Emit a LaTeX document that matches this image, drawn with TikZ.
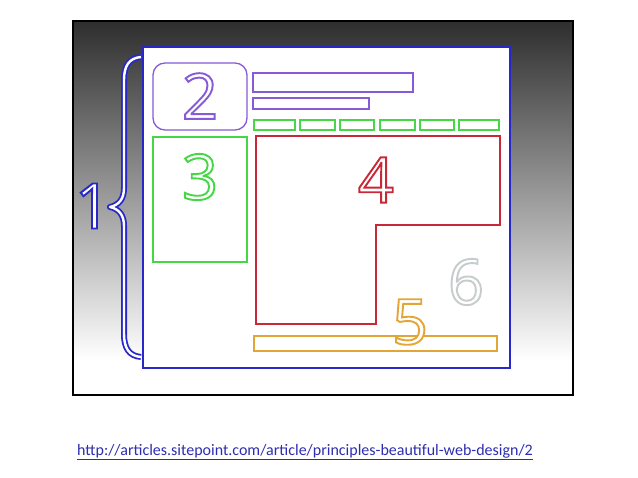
\documentclass[tikz,border=0pt]{standalone}
\usepackage{fontspec}
\setmainfont{Carlito}
\newfontfamily\digitfont{Open Sans}
\usepackage{xcolor}
\usepackage{tikz}
\usetikzlibrary{calc}

\definecolor{pageblue}{RGB}{40,40,200}
\definecolor{logopurple}{RGB}{135,90,215}
\definecolor{navgreen}{RGB}{70,215,70}
\definecolor{bodyred}{RGB}{200,40,55}
\definecolor{footorange}{RGB}{228,165,55}
\definecolor{spacegray}{RGB}{198,204,204}
\definecolor{linkblue}{RGB}{45,45,175}

% outlined digit: stroke in colour, filled white
\newcommand{\hollow}[2]{\textcolor{#1}{\special{pdf:literal direct 1 1 1 rg 2 Tr 1.9 w}#2\special{pdf:literal direct 0 Tr}}}

\tikzset{
    area/.style={draw=#1, line width=1.3pt, inner sep=0pt},
    digit/.style={inner sep=0pt, font=\digitfont\fontsize{63}{63}\selectfont}
}

\begin{document}
\begin{tikzpicture}[x=1pt, y=-1pt]
    \useasboundingbox (0,0) rectangle (638,478);

    % screen with gradient
    \shade[top color=black!82, bottom color=white] (73,21) rectangle (573,360);
    \fill[white] (73,360) rectangle (573,395);
    \draw[black, line width=1.2pt] (73,21) rectangle (573,395);

    % page
    \node[area=pageblue, line width=1.8pt, fill=white, minimum width=367pt, minimum height=321pt] (page) at (326.5,207.5) {};

    % header
    \node[area=logopurple, rounded corners=12pt, minimum width=94pt, minimum height=67pt] (logo) at (200,96.5) {};
    \node[area=logopurple, minimum width=160pt, minimum height=19pt] (title) at (333,82.5) {};
    \node[area=logopurple, minimum width=116pt, minimum height=11pt] (slogan) at (311,103.5) {};

    % navigation
    \foreach \x/\w [count=\i] in {274.5/41, 317.5/35, 357/34, 397.5/35, 437/34, 479/40}
        \node[area=navgreen, minimum width=\w pt, minimum height=10pt] (nav\i) at (\x,125) {};

    % sidebar
    \node[area=navgreen, minimum width=94pt, minimum height=125pt] (side) at (200,199.5) {};

    % content
    \coordinate (c1) at (256,136);
    \coordinate (c2) at (500,136);
    \coordinate (c3) at (500,225);
    \coordinate (c4) at (376,225);
    \coordinate (c5) at (376,324);
    \coordinate (c6) at (256,324);
    \draw[bodyred, line width=1.3pt] (c1) -- (c2) -- (c3) -- (c4) -- (c5) -- (c6) -- cycle;

    % footer
    \node[area=footorange, minimum width=243pt, minimum height=15pt] (foot) at (375.5,343.5) {};

    % brace
    \coordinate (btop) at (141,57);
    \coordinate (btip) at (110,207);
    \coordinate (bbot) at (141,357);
    \draw[pageblue, line width=1.8pt, double=white, double distance=2.4pt, line join=round]
        (btop) .. controls (129,58) and (124,66) .. (124,80) -- (124,188)
        .. controls (124,199) and (119,205) .. (btip)
        .. controls (119,209) and (124,215) .. (124,226) -- (124,334)
        .. controls (124,348) and (129,356) .. (bbot);

    % numbers
    \node[digit] (n1) at (93,206) {\hollow{pageblue}{1}};
    \node[digit] (n2) at (200,96) {\hollow{logopurple}{2}};
    \node[digit] (n3) at (200,177) {\hollow{navgreen}{3}};
    \node[digit] (n4) at (376,180) {\hollow{bodyred}{4}};
    \node[digit] (n5) at (410,322) {\hollow{footorange}{5}};
    \node[digit] (n6) at (466,282) {\hollow{spacegray}{6}};

    % source
    \node[anchor=west, text=linkblue, inner sep=0pt, font=\fontsize{16}{18}\selectfont] (url) at (77,452)
        {\underline{http://articles.sitepoint.com/article/principles-beautiful-web-design/2}};
\end{tikzpicture}
\end{document}
